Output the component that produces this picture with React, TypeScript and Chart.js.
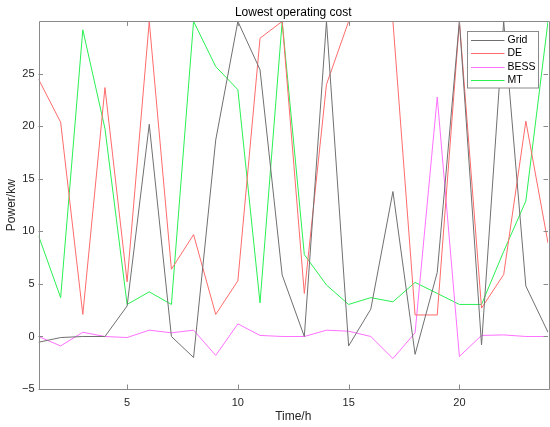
import React, { useEffect, useRef } from 'react';
import { Chart, registerables } from 'chart.js';

Chart.register(...registerables);

const hours = [1, 2, 3, 4, 5, 6, 7, 8, 9, 10, 11, 12, 13, 14, 15, 16, 17, 18, 19, 20, 21, 22, 23, 24];
const gridPower = [-0.55, -0.1, 0, 0, 2.9, 20.2, 0, -2.0, 18.7, 30, 25.4, 5.85, 0, 30, -0.9, 2.6, 13.8, -1.7, 6.1, 30, -0.8, 30, 4.8, 0.4];
const dePower = [24.5, 20.4, 2.1, 23.7, 5.2, 30, 6.4, 9.7, 2.1, 5.3, 28.4, 30, 4.1, 24, 30, 30, 30, 2.05, 2.05, 30, 2.7, 5.9, 20.5, 8.9];
const bessPower = [0, -0.9, 0.4, 0, -0.1, 0.6, 0.35, 0.6, -1.8, 1.2, 0.1, 0, 0, 0.6, 0.5, 0, -2.1, 0.35, 22.8, -1.9, 0.1, 0.15, 0, 0];
const mtPower = [9.6, 3.7, 29.2, 19.8, 3.05, 4.25, 3.05, 30, 25.7, 23.5, 3.2, 30, 7.8, 4.9, 3.05, 3.7, 3.3, 5.15, 4.1, 3.05, 3.05, 8.1, 12.9, 30];
const seriesNames = ['Grid', 'DE', 'BESS', 'MT'];
const seriesColors = ['#707070', '#ff6b6b', '#ff70ff', '#2af052'];
const xTicks = [5, 10, 15, 20];
const yTicks = [-5, 0, 5, 10, 15, 20, 25];

const FONT = "'Liberation Sans', Arial, Helvetica, sans-serif";

const boxPlugin = {
  id: 'matlabBox',
  afterDatasetsDraw(chart: any) {
    const { ctx, chartArea: a, scales } = chart;
    ctx.save();
    ctx.strokeStyle = '#8a8a8a';
    ctx.lineWidth = 1;
    ctx.beginPath();
    ctx.rect(Math.round(a.left) + 0.5, Math.round(a.top) + 0.5, Math.round(a.right - a.left), Math.round(a.bottom - a.top));
    ctx.stroke();
    const tl = 4.5;
    ctx.beginPath();
    for (const v of xTicks) {
      const x = Math.round(scales.x.getPixelForValue(v)) + 0.5;
      ctx.moveTo(x, a.bottom);
      ctx.lineTo(x, a.bottom - tl);
      ctx.moveTo(x, a.top);
      ctx.lineTo(x, a.top + tl);
    }
    for (const v of yTicks) {
      const y = Math.round(scales.y.getPixelForValue(v)) + 0.5;
      ctx.moveTo(a.left, y);
      ctx.lineTo(a.left + tl, y);
      ctx.moveTo(a.right, y);
      ctx.lineTo(a.right - tl, y);
    }
    ctx.stroke();
    ctx.restore();
  },
};

const legendPlugin = {
  id: 'matlabLegend',
  afterDraw(chart: any) {
    const { ctx, chartArea: a } = chart;
    const boxW = 71;
    const boxH = 56.5;
    const bx = Math.round(a.right - 10 - boxW) + 0.5;
    const by = Math.round(a.top + 9.5) + 0.5;
    ctx.save();
    ctx.fillStyle = '#ffffff';
    ctx.strokeStyle = '#8a8a8a';
    ctx.lineWidth = 1;
    ctx.fillRect(bx, by, boxW, boxH);
    ctx.strokeRect(bx, by, boxW, boxH);
    ctx.font = `10.5px ${FONT}`;
    ctx.textBaseline = 'middle';
    ctx.textAlign = 'left';
    chart.data.datasets.forEach((ds: any, i: number) => {
      const y = Math.round(by + 8.5 + i * 13.4) + 0.5;
      ctx.strokeStyle = ds.borderColor;
      ctx.beginPath();
      ctx.moveTo(bx + 3.5, y);
      ctx.lineTo(bx + 37, y);
      ctx.stroke();
      ctx.fillStyle = '#000000';
      ctx.fillText(ds.label, bx + 40, y);
    });
    ctx.restore();
  },
};

export default function App() {
  const ref = useRef<HTMLCanvasElement>(null);
  useEffect(() => {
    if (!ref.current) return;
    const seriesValues = [gridPower, dePower, bessPower, mtPower];
    const chart = new Chart(ref.current, {
      type: 'line',
      data: {
        datasets: seriesValues.map((vals, i) => ({
          label: seriesNames[i],
          data: hours.map((h, j) => ({ x: h, y: vals[j] })),
          borderColor: seriesColors[i],
          backgroundColor: seriesColors[i],
          borderWidth: 1,
          pointRadius: 0,
          tension: 0,
          fill: false,
        })),
      },
      options: {
        animation: false,
        responsive: false,
        devicePixelRatio: 1,
        layout: { padding: { top: 0, right: 2, left: 0, bottom: 0 } },
        plugins: {
          legend: { display: false },
          tooltip: { enabled: false },
          title: {
            display: true,
            text: 'Lowest operating cost',
            fullSize: false,
            color: '#000000',
            font: { family: FONT, size: 12, weight: 'normal' },
            padding: { top: 5, bottom: 2 },
          },
        },
        scales: {
          x: {
            type: 'linear',
            min: 1,
            max: 24,
            afterBuildTicks: (s: any) => {
              s.ticks = xTicks.map((v) => ({ value: v }));
            },
            afterFit: (s: any) => {
              s.height = 38;
            },
            grid: { display: false, drawTicks: false },
            border: { display: false },
            ticks: {
              color: '#262626',
              font: { family: FONT, size: 11 },
              padding: 7,
              maxRotation: 0,
              autoSkip: false,
            },
            title: {
              display: true,
              text: 'Time/h',
              color: '#262626',
              font: { family: FONT, size: 12 },
              padding: { top: 0, bottom: 3 },
            },
          },
          y: {
            type: 'linear',
            min: -5,
            max: 30,
            afterBuildTicks: (s: any) => {
              s.ticks = yTicks.map((v) => ({ value: v }));
            },
            afterFit: (s: any) => {
              s.width = 38.5;
            },
            grid: { display: false, drawTicks: false },
            border: { display: false },
            ticks: {
              color: '#262626',
              font: { family: FONT, size: 11 },
              padding: 4,
              autoSkip: false,
              callback: (v: any) => (Number(v) < 0 ? '\u2212' + Math.abs(Number(v)) : String(v)),
            },
            title: {
              display: true,
              text: 'Power/kw',
              color: '#262626',
              font: { family: FONT, size: 12 },
              padding: { top: 4, bottom: 0 },
            },
          },
        },
      },
      plugins: [boxPlugin, legendPlugin],
    } as any);
    return () => chart.destroy();
  }, []);
  return (
    <div style={{ position: 'absolute', left: 0, top: 0, width: 550, height: 427, background: '#ffffff' }}>
      <canvas ref={ref} width={550} height={427} style={{ display: 'block' }} />
    </div>
  );
}
